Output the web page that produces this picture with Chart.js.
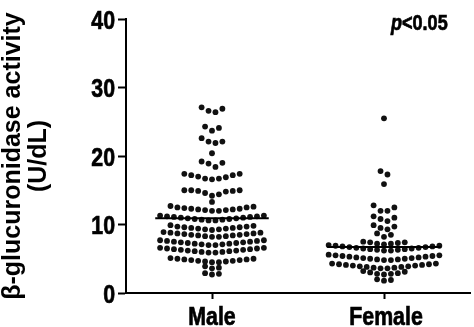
<!DOCTYPE html>
<html>
<head>
<meta charset="utf-8">
<script src="https://cdn.jsdelivr.net/npm/chart.js@4.4.1/dist/chart.umd.min.js"></script>
<style>
  html, body { margin: 0; padding: 0; background: #fff; }
  canvas { display: block; }
</style>
</head>
<body>
<canvas id="chart" width="474" height="327"></canvas>
<script>
const categories = ["Male", "Female"];
const yTicks = [0, 10, 20, 30, 40];
const groupMeans = [10.9, 6.7];
const pText = ["p", "<0.05"];

const maleValues = [
  2.7, 2.8, 2.9,
  3.6, 3.7, 3.9,
  4.5, 4.5, 4.6, 4.6, 4.7, 4.7, 4.8, 4.8, 4.9, 4.9, 5.0, 5.0, 5.1,
  5.9, 5.9, 6.0, 6.0, 6.1, 6.1, 6.2, 6.2, 6.3, 6.3, 6.4, 6.4, 6.5, 6.5, 6.6, 6.6,
  7.0, 7.0, 7.1, 7.1, 7.2, 7.2, 7.3, 7.3, 7.4, 7.4, 7.5, 7.5, 7.6, 7.6, 7.7, 7.7,
  8.2, 8.2, 8.3, 8.3, 8.4, 8.4, 8.5, 8.5, 8.6, 8.6, 8.7, 8.7, 8.8, 8.8, 8.9,
  9.2, 9.3, 9.3, 9.4, 9.4, 9.5, 9.5, 9.6, 9.6, 9.7, 9.7, 9.8, 9.9,
  10.6, 10.6, 10.7, 10.7, 10.8, 10.8, 10.9, 10.9, 11.0, 11.0, 11.1, 11.1, 11.2, 11.2, 11.3, 11.3,
  12.0, 12.0, 12.1, 12.1, 12.2, 12.2, 12.3, 12.3, 12.4, 12.5, 12.5, 12.6, 12.7,
  13.3,
  14.2, 14.4, 14.6, 14.8, 14.9, 14.9, 15.0, 15.0, 15.0,
  16.6, 16.7, 16.7, 16.9, 17.0, 17.2, 17.2, 17.4, 17.4,
  18.4, 18.9, 19.0, 19.2,
  20.4,
  21.9, 22.1, 22.1, 22.6,
  23.7, 24.1, 24.3,
  26.4, 26.6, 26.9, 27.1
];

const femaleValues = [
  1.8, 1.9, 2.0,
  2.7, 2.8, 2.8, 2.9, 3.0, 3.1, 3.2,
  3.6, 3.6, 3.7, 3.7, 3.8, 3.8, 3.9, 3.9, 4.0, 4.0, 4.1, 4.1, 4.2, 4.2, 4.3, 4.3,
  4.8, 4.8, 4.9, 4.9, 5.0, 5.0, 5.1, 5.1, 5.2, 5.2, 5.3, 5.3, 5.4, 5.4, 5.5, 5.5, 5.6,
  6.2, 6.2, 6.3, 6.3, 6.4, 6.4, 6.5, 6.5, 6.6, 6.6, 6.7, 6.7, 6.8, 6.8, 6.9, 6.9, 7.0,
  7.1, 7.2, 7.2, 7.3, 7.4, 7.4, 7.5,
  8.2, 8.5, 8.7,
  9.3, 9.5, 9.7, 9.9,
  10.5, 10.8, 11.0, 11.2,
  12.0, 12.0, 12.5, 12.8,
  15.9,
  17.3, 17.8,
  25.5
];

const FONT = "'Liberation Sans', Arial, sans-serif";
const SQUEEZE = 0.82;    // labels in the figure are set narrow
const Y_AXIS_W = 126;
const X_AXIS_H = 34;
const PX_PER_X = (474 - Y_AXIS_W) / 2;
const DOT_STEP = 7;      // px between neighbours in a row
const ROW_SPAN = 0.8;    // values closer than this share a row
const MEAN_HALF = 0.33;

// prism-like column scatter: bin into rows, lowest value in the middle
function swarm(values, center) {
  const sorted = [...values].sort((a, b) => a - b);
  const rows = [];
  let row = null;
  sorted.forEach(v => {
    if (!row || v > row[0] + ROW_SPAN + 1e-6) {
      row = [v];
      rows.push(row);
    } else {
      row.push(v);
    }
  });
  const pts = [];
  rows.forEach(r => {
    const n = r.length;
    r.forEach((v, i) => {
      let slot;
      if (n % 2) slot = i === 0 ? 0 : Math.ceil(i / 2) * (i % 2 ? 1 : -1);
      else slot = (Math.floor(i / 2) + 0.5) * (i % 2 ? -1 : 1);
      pts.push({ x: center + slot * DOT_STEP / PX_PER_X, y: v });
    });
  });
  return pts;
}

function narrowText(ctx, text, x, y, align, size, style) {
  ctx.save();
  ctx.font = (style || '') + ' bold ' + size + 'px ' + FONT;
  ctx.translate(x, y);
  ctx.scale(SQUEEZE, 1);
  ctx.textAlign = align;
  ctx.textBaseline = 'alphabetic';
  ctx.fillStyle = '#000';
  ctx.strokeStyle = '#000';
  ctx.lineWidth = 0.7;
  ctx.fillText(text, 0, 0);
  ctx.strokeText(text, 0, 0);
  ctx.restore();
}

const axisLabels = {
  id: 'axisLabels',
  afterDraw(chart) {
    const ctx = chart.ctx;
    const xs = chart.scales.x, ys = chart.scales.y;
    yTicks.forEach(v => {
      narrowText(ctx, String(v), ys.right - 11, ys.getPixelForValue(v) + 9.5, 'right', 26);
    });
    categories.forEach((c, i) => {
      narrowText(ctx, c, xs.getPixelForValue(i) + i * 2, xs.top + 32, 'center', 26);
    });
    // p value note, top right
    const px = chart.chartArea.right - 79;
    const py = chart.chartArea.top + 11;
    ctx.save();
    ctx.font = 'italic bold 22px ' + FONT;
    const w = ctx.measureText(pText[0]).width * SQUEEZE;
    ctx.restore();
    narrowText(ctx, pText[0], px, py, 'left', 22, 'italic');
    narrowText(ctx, pText[1], px + w, py, 'left', 22);
  }
};

const datasets = [];
categories.forEach((c, i) => {
  datasets.push({
    label: c + ' mean',
    data: [{ x: i - MEAN_HALF, y: groupMeans[i] }, { x: i + MEAN_HALF, y: groupMeans[i] }],
    showLine: true,
    borderColor: '#000',
    borderWidth: 2,
    pointRadius: 0,
    order: 0
  });
});
[maleValues, femaleValues].forEach((vals, i) => {
  datasets.push({
    label: categories[i],
    data: swarm(vals, i),
    backgroundColor: '#111',
    borderWidth: 0,
    pointRadius: 2.9,
    order: 1
  });
});

new Chart(document.getElementById('chart'), {
  type: 'scatter',
  data: { datasets: datasets },
  options: {
    responsive: false,
    animation: false,
    devicePixelRatio: 1,
    layout: { padding: { top: 19, left: 0, right: 0, bottom: 0 } },
    plugins: { legend: { display: false }, tooltip: { enabled: false } },
    scales: {
      x: {
        type: 'linear',
        min: -0.5,
        max: 1.5,
        afterBuildTicks: s => { s.ticks = categories.map((c, i) => ({ value: i })); },
        afterFit: s => { s.height = X_AXIS_H; },
        ticks: { display: false },
        grid: { drawOnChartArea: false, tickLength: 6, tickWidth: 2, tickColor: '#000' },
        border: { color: '#000', width: 2 }
      },
      y: {
        min: 0,
        max: 40,
        afterBuildTicks: s => { s.ticks = yTicks.map(v => ({ value: v })); },
        afterFit: s => { s.width = Y_AXIS_W; },
        ticks: { display: false },
        grid: { drawOnChartArea: false, tickLength: 8, tickWidth: 2, tickColor: '#000' },
        border: { color: '#000', width: 2 },
        title: {
          display: true,
          text: ['β-glucuronidase activity', '(U/dL)'],
          color: '#000',
          font: { family: FONT, size: 25, weight: 'bold', lineHeight: 1.04 },
          padding: 0
        }
      }
    }
  },
  plugins: [axisLabels]
});
</script>
</body>
</html>
